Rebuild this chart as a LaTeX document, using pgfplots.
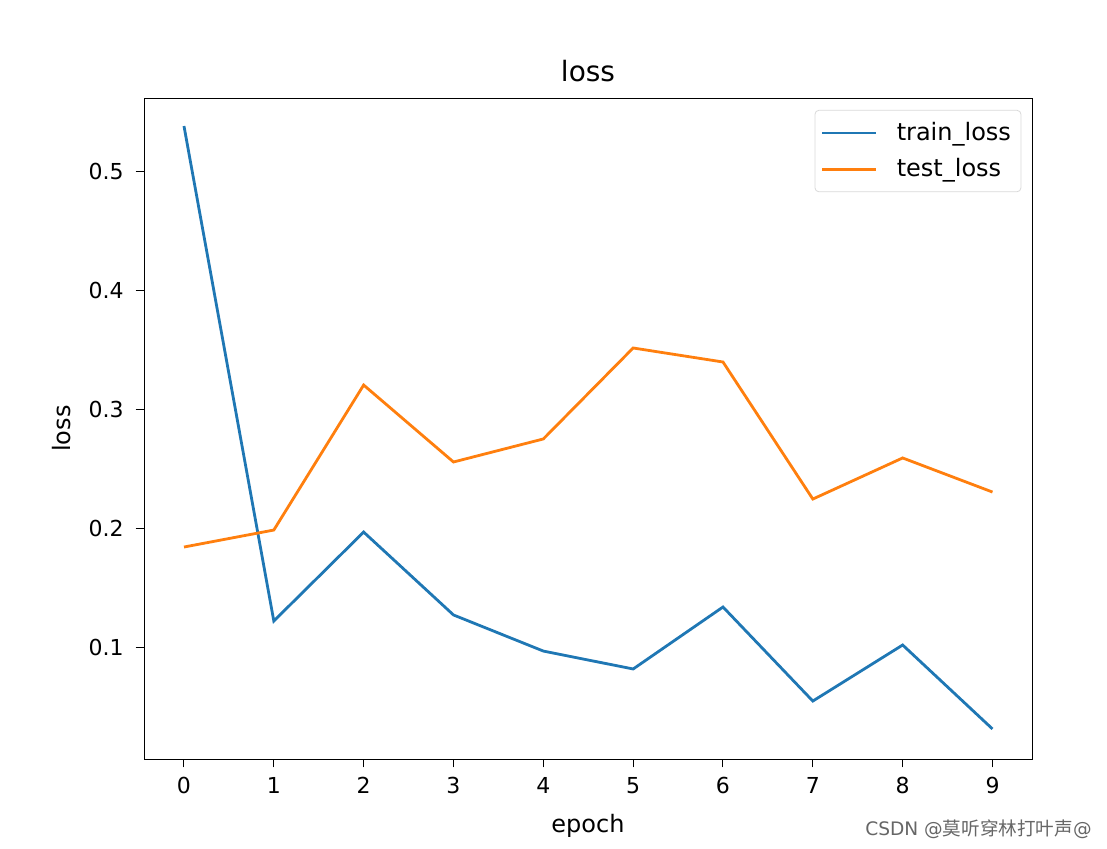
\documentclass[border=0pt]{standalone}
\usepackage{pgfplots}
\pgfplotsset{compat=1.18}
\usepackage{fontspec}
\setmainfont{DejaVu Sans}
\newfontfamily\cjk{Noto Sans CJK SC}
\definecolor{c0}{HTML}{1F77B4}
\definecolor{c1}{HTML}{FF7F0E}
\begin{document}
\begin{tikzpicture}
\begin{axis}[
  at={(0,0)}, anchor=south west,
  scale only axis, width=444pt, height=330.5pt,
  xmin=-0.445, xmax=9.44, ymin=0.0057, ymax=0.5623,
  xtick={0,...,9}, ytick={0.1,0.2,0.3,0.4,0.5},
  yticklabel style={/pgf/number format/fixed,/pgf/number format/precision=1, xshift=-2.5pt},
  xticklabel style={yshift=-1.5pt},
  /pgf/number format/assume math mode=true,
  tick align=outside, tick pos=left, major tick length=4.2pt,
  every tick/.style={black, line width=0.5pt},
  axis line style={line width=0.5pt},
  ticklabel style={font=\fontsize{11}{13}\selectfont},
  title={loss}, title style={font=\fontsize{14}{16}\selectfont, yshift=-1.5pt},
  xlabel={epoch}, ylabel={loss},
  label style={font=\fontsize{12}{14}\selectfont},
  xlabel style={yshift=-3pt},
  ylabel style={yshift=2pt},
  legend style={at={(rel axis cs:0.988,0.982)}, anchor=north east, font=\fontsize{12}{14}\selectfont, draw=black!15, rounded corners=2pt, row sep=3.5pt, inner xsep=3pt, inner ysep=4pt},
  legend cell align=left,
  legend image code/.code={\draw[#1] (0pt,0pt) -- (27pt,0pt);},
]
\addplot[c0, line width=1.4pt] coordinates {(0,0.5387) (1,0.1219) (2,0.1968) (3,0.127) (4,0.0966) (5,0.0815) (6,0.1337) (7,0.0545) (8,0.1017) (9,0.031)};
\addlegendentry{\hspace{7.5pt}train\_loss}
\addplot[c1, line width=1.4pt] coordinates {(0,0.1842) (1,0.1985) (2,0.3206) (3,0.2558) (4,0.2752) (5,0.3518) (6,0.34) (7,0.2246) (8,0.2592) (9,0.2305)};
\addlegendentry{\hspace{7.5pt}test\_loss}
\end{axis}
\node[anchor=east, text=black!60, font=\fontsize{9.3}{11}\selectfont, inner sep=0pt] at (474pt,-35pt) {CSDN @{\cjk 莫听穿林打叶声}@};
\pgfresetboundingbox
\path (-72pt,-44.5pt) rectangle (481.5pt,379.5pt);
\end{tikzpicture}
\end{document}
